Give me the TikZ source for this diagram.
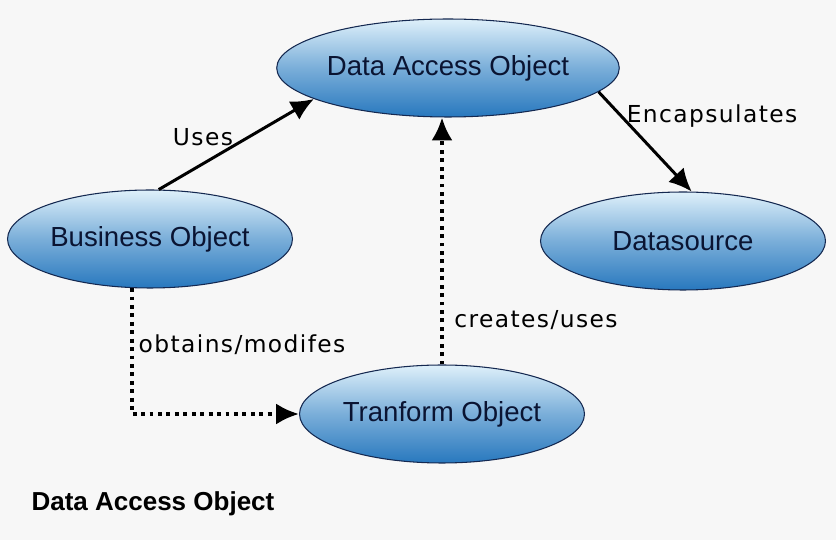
\documentclass[tikz,border=0pt]{standalone}
\usepackage{fontspec}
\setmainfont{Liberation Sans}
\newfontfamily\labelfont[LetterSpace=6]{DejaVu Sans}
\usepackage{tikz}
\usetikzlibrary{arrows.meta, shapes.geometric}
\definecolor{bgcol}{RGB}{247,247,247}
\definecolor{topblue}{RGB}{222,240,250}
\definecolor{botblue}{RGB}{40,120,190}
\definecolor{edgeblue}{RGB}{20,40,80}
\definecolor{textblue}{RGB}{10,20,50}

\begin{document}
\begin{tikzpicture}[
        x=0.02cm, y=-0.02cm,
        object/.style={ellipse, draw=edgeblue, line width=0.6pt,
          top color=topblue, bottom color=botblue, middle color=botblue!55!topblue,
          minimum width=5.7cm, minimum height=1.96cm, inner sep=0pt,
          text=textblue, font=\fontsize{15.7}{18}\selectfont},
        edgelabel/.style={font=\labelfont\fontsize{13.3}{16}\selectfont, inner sep=0pt},
        uses/.style={line width=1.7pt, -{Latex[length=13pt,width=12pt]}},
        dots/.style={line width=2.2pt, dash pattern=on 2.2pt off 2.6pt,
          -{Latex[length=13pt,width=12pt]}}
      ]
      \fill[bgcol] (0,0) rectangle (836,540);
      \useasboundingbox (0,0) rectangle (836,540);

      % the four objects
      \node[object] (dao) at (448,68) {Data Access Object};
      \node[object] (bo) at (150,239) {Business Object};
      \node[object] (ds) at (683,241) {Datasource};
      \node[object] (tf) at (442,414) {Tranform Object};

      % links
      \draw[uses] (bo.80) -- (dao.193);
      \draw[uses] (dao.-9) -- (ds.80);
      \draw[dots] (tf.north) -- (tf.north |- dao.south);
      \draw[dots] (bo.250) |- (tf.west);

      \node[edgelabel] (usesl) at (203,137) {Uses};
      \node[edgelabel] (encl) at (712,116) {Encapsulates};
      \node[edgelabel] (crl) at (536,320) {creates/uses};
      \node[edgelabel] (obl) at (242,345) {obtains/modifes};

      \node[font=\bfseries\fontsize{14.8}{17}\selectfont] (title) at (153,504) {Data Access Object};
\end{tikzpicture}
\end{document}
